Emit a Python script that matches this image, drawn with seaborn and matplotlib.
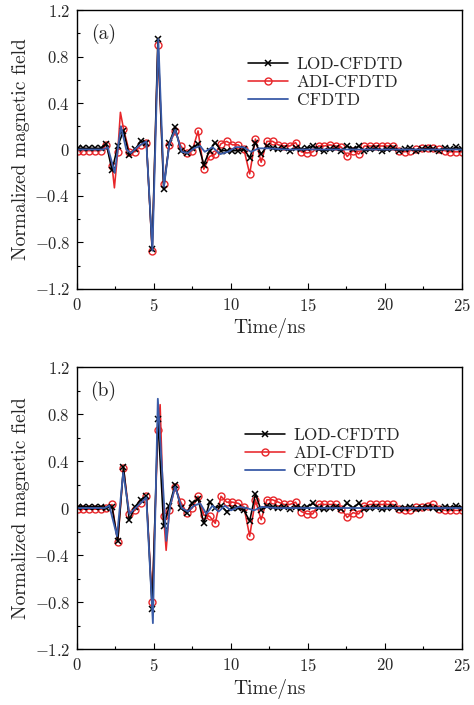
import numpy as np
import matplotlib
matplotlib.use("Agg")
import matplotlib.pyplot as plt
from matplotlib.lines import Line2D
from matplotlib.ticker import MultipleLocator, FixedLocator, FixedFormatter
import seaborn as sns

# sample times of the LOD / ADI markers (ns)
DT = 0.3725
t_mark = 0.04 + DT * np.arange(68)

# panel (a)
adi_a = [-0.01, -0.01, -0.01, -0.01, -0.01,
         0.04, -0.14, -0.02, 0.18, -0.02, -0.02, 0.04, 0.06, -0.87, 0.90,
         -0.30, 0.04, 0.16, 0.03, -0.03, -0.01, 0.16, -0.17, -0.06, -0.04,
         0.05, 0.07, 0.04, 0.04, 0.00, -0.21, 0.09, -0.11, 0.07, 0.07,
         0.04, 0.03, 0.03, 0.06, -0.02, -0.03, -0.02, 0.03, 0.03, 0.04,
         0.03, 0.02, -0.06, -0.01, -0.04, 0.03, 0.03, 0.03, 0.03, 0.03,
         0.03, -0.01, -0.02, -0.01, 0.00, 0.01, 0.01, 0.01, 0.00, -0.01,
         -0.02, -0.02, -0.02]
adi_a_extra_t = [2.43, 2.82]
adi_a_extra_v = [-0.33, 0.32]
lod_a = [0.01, 0.01, 0.01, 0.01, 0.01,
         0.05, -0.18, 0.03, 0.16, -0.05, 0.00, 0.07, 0.06, -0.86, 0.95,
         -0.34, 0.06, 0.19, -0.01, -0.03, 0.01, 0.05, -0.13, -0.01, 0.06,
         -0.01, -0.01, -0.01, -0.01, 0.00, -0.07, 0.06, -0.04, 0.03, 0.01,
         0.00, 0.01, -0.01, 0.01, 0.00, 0.01, 0.03, 0.00, -0.01, 0.00,
         0.01, -0.01, 0.03, 0.00, 0.03, -0.01, 0.00, 0.01, -0.01, 0.00,
         0.01, -0.01, 0.00, 0.01, -0.01, 0.00, 0.01, 0.00, -0.01, 0.01,
         0.00, 0.02, 0.00]
cf_t_a = [0, 1.7, 2.0, 2.45, 2.85, 3.2, 3.5, 4.0, 4.5, 4.9, 5.28, 5.65, 6.0, 6.38,
          6.8, 7.2, 7.6, 8.0, 8.3, 8.8, 9.3, 9.8, 10.3, 10.8, 11.3, 11.8, 12.5, 13.5, 25]
cf_v_a = [0, 0, 0.02, -0.20, 0.20, 0.0, -0.03, 0.03, 0.07, -0.87, 0.95, -0.32, 0.05, 0.17,
          -0.02, -0.03, 0.01, 0.03, -0.02, 0.02, -0.04, -0.02, 0.02, 0.02, -0.02, 0.01, 0.01, 0.0, 0.0]

# panel (b)
adi_b = [-0.01, -0.01, -0.01, -0.01, -0.01,
         0.00, 0.03, -0.29, 0.34, -0.05, -0.02, 0.04, 0.10, -0.80, 0.66,
         -0.07, -0.02, 0.18, 0.05, -0.04, 0.00, 0.10, -0.06, -0.07, -0.13,
         0.10, 0.05, 0.05, 0.04, 0.01, -0.24, 0.07, -0.10, 0.07, 0.07,
         0.05, 0.03, 0.03, 0.05, -0.03, -0.05, -0.05, 0.03, 0.03, 0.03,
         0.03, -0.01, -0.08, -0.04, -0.05, 0.02, 0.03, 0.03, 0.03, 0.03,
         0.03, -0.01, -0.02, -0.02, 0.01, 0.01, 0.02, 0.03, -0.01, -0.02,
         -0.02, -0.02, -0.02]
adi_b_extra_t = [5.40, 5.79]
adi_b_extra_v = [0.88, -0.36]
lod_b = [0.01, 0.01, 0.01, 0.01, 0.01,
         0.00, 0.01, -0.28, 0.35, -0.10, 0.01, 0.07, 0.10, -0.86, 0.76,
         -0.15, 0.02, 0.20, 0.00, -0.04, 0.04, 0.08, -0.13, 0.05, 0.00,
         0.02, -0.03, 0.00, 0.00, -0.02, -0.11, 0.12, -0.02, 0.02, 0.01,
         0.00, 0.01, -0.01, 0.01, 0.00, 0.01, 0.04, 0.00, -0.01, 0.00,
         0.01, -0.01, 0.04, 0.00, 0.04, -0.01, 0.00, 0.01, -0.01, 0.00,
         0.01, -0.01, 0.00, 0.01, -0.01, 0.00, 0.01, 0.00, -0.01, 0.01,
         0.00, 0.02, 0.00]
cf_t_b = [0, 1.8, 2.1, 2.6, 3.0, 3.4, 3.8, 4.2, 4.5, 4.93, 5.25, 5.8, 6.05, 6.38,
          6.8, 7.2, 7.6, 8.0, 8.4, 8.8, 9.2, 9.6, 10.0, 10.5, 11.0, 11.5, 12.0, 13.0, 25]
cf_v_b = [0, 0, 0.02, -0.24, 0.30, -0.05, 0.0, 0.05, 0.09, -0.98, 0.93, -0.28, 0.02, 0.18,
          0.0, -0.03, 0.02, 0.04, -0.05, 0.02, -0.03, 0.02, -0.02, 0.01, 0.0, -0.02, 0.01, 0.0, 0.0]

y_ticks = [-1.2, -0.8, -0.4, 0, 0.4, 0.8, 1.2]
y_tick_labels = [r'$-1.2$', r'$-0.8$', r'$-0.4$', r'$0$', r'$0.4$', r'$0.8$', r'$1.2$']
x_ticks = [0, 5, 10, 15, 20, 25]
x_tick_labels = [r'$0$', r'$5$', r'$10$', r'$15$', r'$20$', r'$25$']

RED = '#e8262a'
BLUE = '#3a5ca8'

sns.set_style('ticks')
plt.rcParams['font.family'] = ['serif']
plt.rcParams['font.serif'] = ['cmr10', 'DejaVu Serif']
plt.rcParams['mathtext.fontset'] = 'cm'
plt.rcParams['axes.formatter.use_mathtext'] = True
plt.rcParams['axes.unicode_minus'] = False

fig = plt.figure(figsize=(4.74, 7.05), dpi=100)
ax_a = fig.add_axes([0.1624, 0.5901, 0.8122, 0.3957])
ax_b = fig.add_axes([0.1624, 0.0794, 0.8122, 0.4000])


def draw_panel(ax, adi, extra_t, extra_v, lod, cf_t, cf_v, tag, leg_xy):
    line_t = np.concatenate([t_mark, extra_t])
    line_v = np.concatenate([adi, extra_v])
    order = np.argsort(line_t)
    sns.lineplot(x=line_t[order], y=line_v[order], ax=ax, color=RED, lw=1.15,
                 sort=False, estimator=None)
    ax.plot(t_mark, adi, 'o', color=RED, mfc='none', ms=5, mew=1.0)
    sns.lineplot(x=t_mark, y=lod, ax=ax, color='black', lw=1.15, sort=False, estimator=None)
    ax.plot(t_mark, lod, 'x', color='black', ms=5, mew=1.1)
    sns.lineplot(x=cf_t, y=cf_v, ax=ax, color=BLUE, lw=1.3, sort=False, estimator=None)

    ax.set_xlim(0, 25)
    ax.set_ylim(-1.2, 1.2)
    ax.xaxis.set_major_locator(FixedLocator(x_ticks))
    ax.xaxis.set_major_formatter(FixedFormatter(x_tick_labels))
    ax.xaxis.set_minor_locator(MultipleLocator(2.5))
    ax.yaxis.set_major_locator(FixedLocator(y_ticks))
    ax.yaxis.set_major_formatter(FixedFormatter(y_tick_labels))
    ax.yaxis.set_minor_locator(MultipleLocator(0.2))
    ax.tick_params(which='both', direction='in', labelsize=12, color='black')
    ax.tick_params(which='major', length=4, width=0.8)
    ax.tick_params(which='minor', length=2.5, width=0.8)
    ax.tick_params(axis='x', pad=6)
    ax.tick_params(axis='y', pad=5)
    for s in ax.spines.values():
        s.set_linewidth(1.0)
        s.set_color('black')
    ax.set_xlabel('Time/ns', fontsize=14, labelpad=3)
    ax.set_ylabel('Normalized magnetic field', fontsize=14, labelpad=3)
    ax.text(0.068, 0.915, tag, transform=ax.transAxes, fontsize=14,
            ha='center', va='center')

    handles = [
        Line2D([0], [0], color='black', lw=1.15, marker='x', ms=5, mew=1.1, label='LOD-CFDTD'),
        Line2D([0], [0], color=RED, lw=1.15, marker='o', mfc='none', ms=5, mew=1.0, label='ADI-CFDTD'),
        Line2D([0], [0], color=BLUE, lw=1.3, label='CFDTD'),
    ]
    ax.legend(handles=handles, loc='center left', bbox_to_anchor=leg_xy,
              frameon=False, fontsize=12.5, handlelength=2.3, handletextpad=0.5,
              labelspacing=0.15, borderpad=0, borderaxespad=0)


draw_panel(ax_a, adi_a, adi_a_extra_t, adi_a_extra_v, lod_a, cf_t_a, cf_v_a, '(a)', (0.445, 0.742))
draw_panel(ax_b, adi_b, adi_b_extra_t, adi_b_extra_v, lod_b, cf_t_b, cf_v_b, '(b)', (0.436, 0.695))

fig.savefig('out.png', dpi=100)
